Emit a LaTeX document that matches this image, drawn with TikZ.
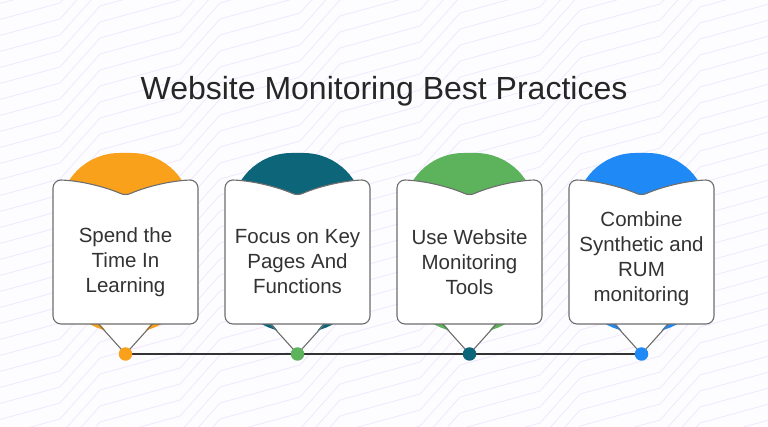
\documentclass[tikz,border=0pt]{standalone}
\usepackage{fontspec}
\setmainfont{Liberation Sans}
\definecolor{bg}{HTML}{FDFCFF}
\definecolor{bgl}{HTML}{EFE6FC}
\definecolor{corange}{HTML}{F9A11B}
\definecolor{cteal}{HTML}{0D6579}
\definecolor{cgreen}{HTML}{5DB35C}
\definecolor{cblue}{HTML}{1F89F5}
\definecolor{txt}{HTML}{333333}
\definecolor{ttl}{HTML}{262626}
\definecolor{edge}{HTML}{6E6E6E}
\tikzset{
  bgline/.style={draw=bgl, line width=0.7pt},
  cardedge/.style={draw=edge, line width=1.1pt, fill=white},
  pointedge/.style={draw=edge, line width=1.1pt},
  cardtext/.style={text=txt, align=center, font=\fontsize{20.5}{25}\selectfont, inner sep=0pt},
  dotnode/.style={circle, inner sep=0pt, minimum size=13.5pt},
  timeline/.style={draw=txt, line width=1.4pt},
}
\begin{document}
\begin{tikzpicture}[x=1pt,y=-1pt]
\fill[bg] (0,0) rectangle (768,427);
\useasboundingbox (0,0) rectangle (768,427);
\begin{scope}
\clip (0,0) rectangle (768,427);
\foreach \k in {0,...,64}{
  \draw[bgline] (-60,\k*16-10) foreach \j in {1,...,8} { -- ++(40,-45) -- ++(80,-22) };
}
\end{scope}
\node[text=ttl, font=\fontsize{32}{36}\selectfont, anchor=base] (title) at (384,100) {Website Monitoring Best Practices};
\foreach \cx/\blob/\dotc/\i/\ty/\lab in {
  125.5/corange/corange/1/262/{Spend the\\Time In\\Learning},
  297.5/cteal/cgreen/2/262/{Focus on Key\\Pages And\\Functions},
  469.5/cgreen/cteal/3/262/{Use Website\\Monitoring\\Tools},
  641.5/cblue/cblue/4/259/{Combine\\Synthetic and\\RUM\\monitoring}}{
  \pgfmathsetmacro{\L}{\cx-72.5}
  \pgfmathsetmacro{\R}{\cx+72.5}
  \fill[\blob, rounded corners=60pt] (\cx-66,153) rectangle (\cx+66,332);
  \coordinate (p\i) at (\cx,354);
  \fill[white] (\cx-27,322) -- (p\i) -- (\cx+27,322) -- cycle;
  \draw[pointedge] (\cx-27,324) -- (p\i) -- (\cx+27,324);
  \draw[cardedge] (\L+8,180)
     .. controls (\cx-40,181) and (\cx-15,189) .. (\cx-5,193.5)
     .. controls (\cx-2,194.8) and (\cx+2,194.8) .. (\cx+5,193.5)
     .. controls (\cx+15,189) and (\cx+40,181) .. (\R-8,180)
     .. controls (\R-3.6,180) and (\R,183.6) .. (\R,188)
     -- (\R,316)
     .. controls (\R,320.4) and (\R-3.6,324) .. (\R-8,324)
     -- (\L+8,324)
     .. controls (\L+3.6,324) and (\L,320.4) .. (\L,316)
     -- (\L,188)
     .. controls (\L,183.6) and (\L+3.6,180) .. cycle;
  \node[cardtext] (t\i) at (\cx,\ty) {\lab};
}
\draw[timeline] (p1) -- (p4);
\node[dotnode, fill=corange] (d1) at (p1) {};
\node[dotnode, fill=cgreen] (d2) at (p2) {};
\node[dotnode, fill=cteal] (d3) at (p3) {};
\node[dotnode, fill=cblue] (d4) at (p4) {};
\end{tikzpicture}
\end{document}
